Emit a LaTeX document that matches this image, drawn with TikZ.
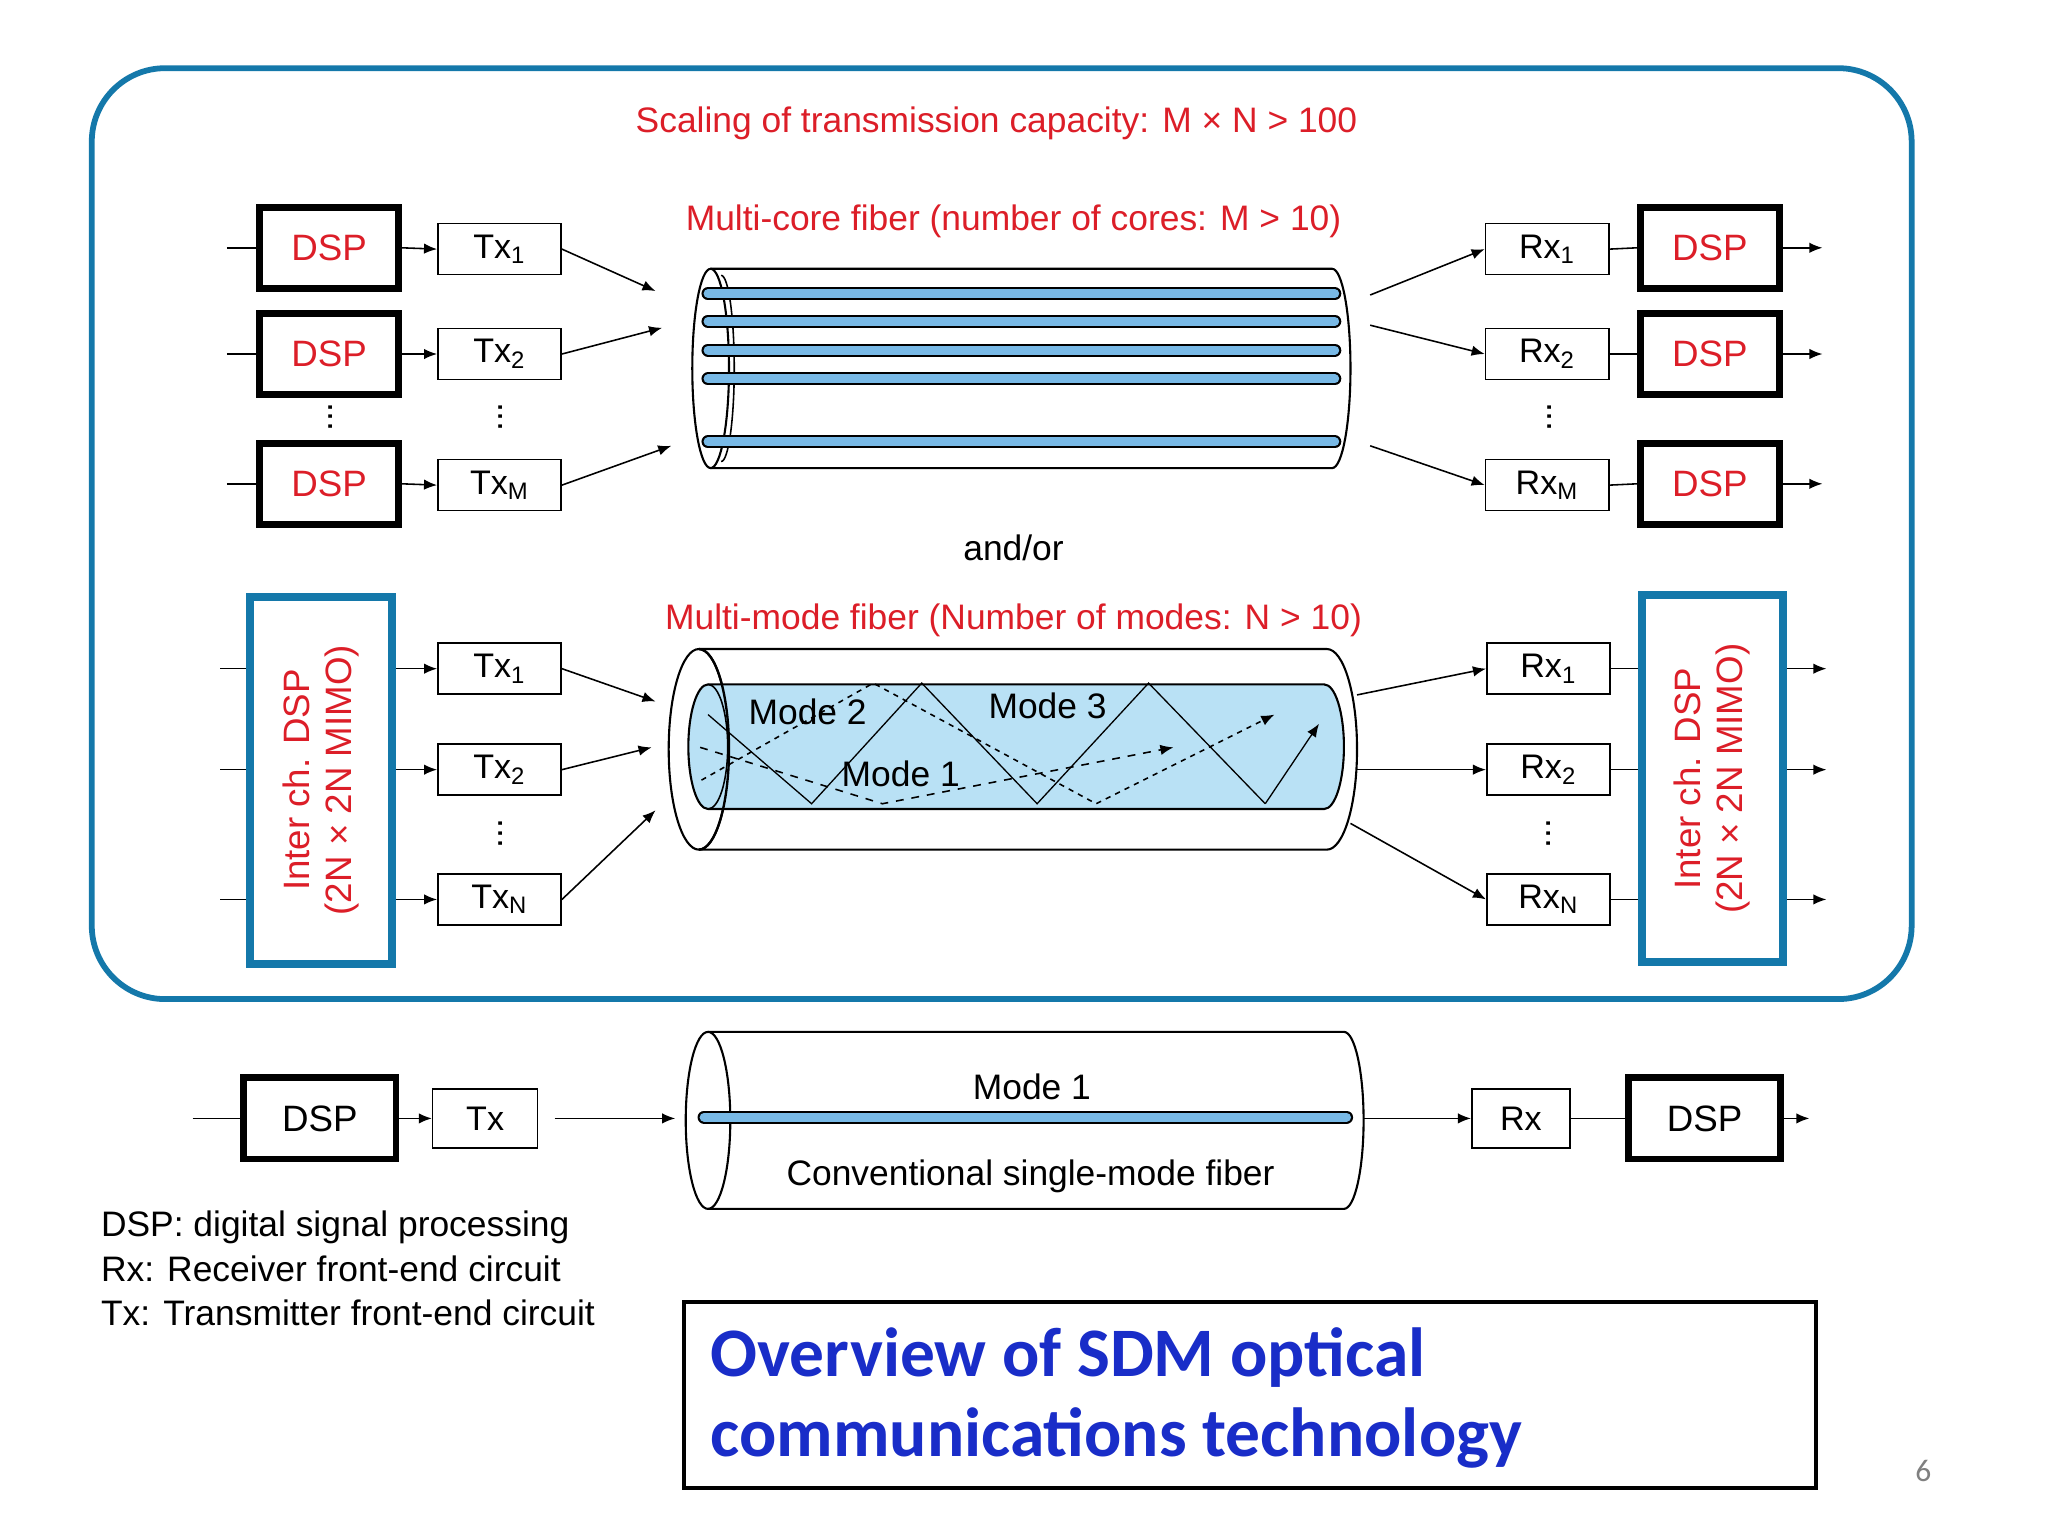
\documentclass[tikz,border=0pt]{standalone}
\usepackage{fontspec}
\setmainfont{Liberation Sans}
\newfontfamily\calib{Carlito}
\usetikzlibrary{arrows.meta}
\definecolor{frameblue}{RGB}{20,120,170}
\definecolor{sred}{RGB}{220,30,40}
\definecolor{coreblue}{RGB}{120,185,230}
\definecolor{lightcore}{RGB}{185,225,245}
\definecolor{titleblue}{RGB}{25,45,200}
\tikzset{
 x=0.5pt,y=-0.5pt,
 dsp/.style={draw,line width=2.6pt,minimum width=53pt,minimum height=31pt,inner sep=0,text=sred,font=\fontsize{14}{16}\selectfont},
 dspk/.style={dsp,text=black},
 txb/.style={draw,line width=0.6pt,minimum width=47pt,minimum height=19.5pt,inner sep=0,font=\fontsize{13}{15}\selectfont},
 mimo/.style={draw=frameblue,line width=3pt,minimum width=54pt,minimum height=140pt,inner sep=0},
 arr/.style={-{Latex[length=5pt,width=4pt]},line width=0.6pt},
 ln/.style={line width=0.6pt},
 lbl/.style={font=\fontsize{13.5}{15}\selectfont},
 core/.style={line width=5pt,line cap=round},
}
\begin{document}
\begin{tikzpicture}
\useasboundingbox (0,0) rectangle (1562,1172);
\fill[white] (0,0) rectangle (1562,1172);
\draw[frameblue,line width=2.2pt,rounded corners=28pt] (70,52) rectangle (1458,762);
\node[lbl,text=sred] (title) at (760,94) {Scaling of transmission capacity: M × N > 100};
% ---------- multi-core ----------
\node[lbl,text=sred] (mcl) at (773,169) {Multi-core fiber (number of cores: M > 10)};
\foreach \n/\y in {1/189,2/270,3/369}{
  \node[dsp] (dl\n) at (251,\y) {DSP};
  \coordinate (il\n) at (173,\y);
  \draw[ln] (il\n) -- (dl\n.west);
  \node[dsp] (dr\n) at (1304,\y) {DSP};
  \coordinate (or\n) at (1390,\y);
  \draw[arr] (dr\n.east) -- (or\n);
}
\node[txb] (t1) at (381,190) {Tx\textsubscript{1}};
\node[txb] (t2) at (381,270) {Tx\textsubscript{2}};
\node[txb] (t3) at (381,370) {Tx\textsubscript{M}};
\node[txb] (r1) at (1180,190) {Rx\textsubscript{1}};
\node[txb] (r2) at (1180,270) {Rx\textsubscript{2}};
\node[txb] (r3) at (1180,370) {Rx\textsubscript{M}};
\foreach \n in {1,2,3}{\draw[arr] (dl\n.east) -- (t\n.west); \draw[ln] (r\n.east) -- (dr\n.west);}
\node[lbl] (dd1) at (252,318) {\rotatebox{90}{...}};
\node[lbl] (dd2) at (382,318) {\rotatebox{90}{...}};
\node[lbl] (dd3) at (1182,318) {\rotatebox{90}{...}};
\node[lbl] (dd4) at (775,312) {\rotatebox{90}{...}};
% fiber
\draw[line width=0.8pt,fill=white] (542,205) -- (1016,205) arc[start angle=-90,end angle=90,x radius=14,y radius=76] -- (542,357);
\draw[line width=0.8pt] (542,281) ellipse[x radius=14,y radius=76];
\draw[line width=0.6pt] (550,210) arc[start angle=-90,end angle=90,x radius=10,y radius=71];
\foreach \y in {224,245,267,289,337}{
  \draw[core,black] (540,\y) -- (1018,\y);
  \draw[line width=3.4pt,line cap=round,coreblue] (540,\y) -- (1018,\y);
}
\coordinate (fa1) at (500,222); \coordinate (fa2) at (505,250); \coordinate (fa3) at (512,340);
\draw[arr] (t1.east) -- (fa1); \draw[arr] (t2.east) -- (fa2); \draw[arr] (t3.east) -- (fa3);
\coordinate (fb1) at (1045,225); \coordinate (fb2) at (1045,248); \coordinate (fb3) at (1045,340);
\draw[arr] (fb1) -- (r1.west); \draw[arr] (fb2) -- (r2.west); \draw[arr] (fb3) -- (r3.west);
\node[lbl] (andor) at (773,418) {and/or};
% ---------- multi-mode ----------
\node[lbl,text=sred] (mml) at (773,473) {Multi-mode fiber (Number of modes: N > 10)};
\node[mimo] (ml) at (245,595) {};
\node[rotate=90,align=center,text=sred,font=\fontsize{14}{16}\selectfont] at (ml.center) {Inter ch. DSP\\(2N × 2N MIMO)};
\node[mimo] (mr) at (1306,594) {};
\node[rotate=90,align=center,text=sred,font=\fontsize{14}{16}\selectfont] at (mr.center) {Inter ch. DSP\\(2N × 2N MIMO)};
\node[txb] (u1) at (381,510) {Tx\textsubscript{1}};
\node[txb] (u2) at (381,587) {Tx\textsubscript{2}};
\node[txb] (u3) at (381,686) {Tx\textsubscript{N}};
\node[txb] (s1) at (1181,510) {Rx\textsubscript{1}};
\node[txb] (s2) at (1181,587) {Rx\textsubscript{2}};
\node[txb] (s3) at (1181,686) {Rx\textsubscript{N}};
\node[lbl] (dd5) at (382,636) {\rotatebox{90}{...}};
\node[lbl] (dd6) at (1181,636) {\rotatebox{90}{...}};
\foreach \n/\y in {1/510,2/587,3/686}{
  \coordinate (mi\n) at (168,\y); \draw[ln] (mi\n) -- (mi\n -| ml.west);
  \draw[arr] (ml.east |- u\n) -- (u\n.west);
  \draw[ln] (s\n.east) -- (s\n.east -| mr.west);
  \coordinate (mo\n) at (1393,\y); \draw[arr] (mr.east |- mo\n) -- (mo\n);
}
% fiber
\draw[line width=0.8pt,fill=white] (533,495) -- (1012,495) arc[start angle=-90,end angle=90,x radius=23,y radius=76.5] -- (533,648);
\draw[line width=0.8pt] (533,571.5) ellipse[x radius=23,y radius=76.5];
\draw[line width=0.8pt,fill=lightcore] (540,522) -- (1010,522) arc[start angle=-90,end angle=90,x radius=15,y radius=47.5] -- (540,617) arc[start angle=90,end angle=270,x radius=15,y radius=47.5] -- cycle;
\draw[line width=0.6pt] (540,522) arc[start angle=-90,end angle=90,x radius=15,y radius=47.5];
\draw[line width=0.9pt] (533,495) arc[start angle=-90,end angle=90,x radius=23,y radius=76.5];
\draw[line width=0.5pt] (540,545) -- (619,613) -- (703,521) -- (791,613) -- (876,521) -- (965,613);
\draw[line width=0.5pt,-{Latex[length=5pt,width=4pt]}] (965,613) -- (1006,552);
\draw[line width=0.6pt,dashed,-{Latex[length=5pt,width=4pt]}] (534,570) -- (673,613) -- (895,570);
\draw[line width=0.6pt,dash pattern=on 2pt off 2pt,-{Latex[length=5pt,width=4pt]}] (535,595) -- (666,521) -- (836,613) -- (972,545);
\node[lbl,inner sep=0.5pt] (m2) at (616,543) {Mode 2};
\node[lbl] (m3) at (799,538) {Mode 3};
\node[lbl,inner sep=0.5pt] (m1) at (687,590) {Mode 1};
\coordinate (ga1) at (500,535); \coordinate (ga2) at (497,570); \coordinate (ga3) at (500,618);
\draw[arr] (u1.east) -- (ga1); \draw[arr] (u2.east) -- (ga2); \draw[arr] (u3.east) -- (ga3);
\coordinate (gb1) at (1035,530); \coordinate (gb2) at (1035,587); \coordinate (gb3) at (1030,628);
\draw[arr] (gb1) -- (s1.west); \draw[arr] (gb2) -- (s2.west); \draw[arr] (gb3) -- (s3.west);
% ---------- single mode ----------
\node[dspk,minimum width=58pt] (bd1) at (244,853) {DSP};
\node[dspk,minimum width=58pt] (bd2) at (1300,853) {DSP};
\node[txb,minimum width=40pt,minimum height=22.5pt] (bt) at (370,853) {Tx};
\node[txb,minimum width=37.5pt,minimum height=22.5pt] (br) at (1160,853) {Rx};
\coordinate (bi) at (147,853); \coordinate (bo) at (1380,853);
\draw[ln] (bi) -- (bd1.west); \draw[arr] (bd1.east) -- (bt.west);
\draw[ln] (br.east) -- (bd2.west); \draw[arr] (bd2.east) -- (bo);
\draw[line width=0.8pt,fill=white] (540,787) -- (1025,787) arc[start angle=-90,end angle=90,x radius=15,y radius=67.5] -- (540,922);
\draw[line width=0.8pt] (540,854.5) ellipse[x radius=17,y radius=67.5];
\draw[core,black] (537,852) -- (1027,852);
\draw[line width=3.4pt,line cap=round,coreblue] (537,852) -- (1027,852);
\coordinate (sa) at (423,853); \coordinate (sb) at (515,853); \coordinate (sc) at (1040,853);
\draw[arr] (sa) -- (sb); \draw[arr] (sc) -- (br.west);
\node[lbl] (sm1) at (787,829) {Mode 1};
\node[lbl] (smf) at (786,897) {Conventional single-mode fiber};
% legend
\node[lbl,anchor=west] (lg1) at (70,936) {DSP: digital signal processing};
\node[lbl,anchor=west] (lg2) at (70,968) {Rx: Receiver front-end circuit};
\node[lbl,anchor=west] (lg3) at (70,1001) {Tx: Transmitter front-end circuit};
% title box
\draw[line width=1.5pt] (522,993) rectangle (1385,1135);
\node[anchor=west,text=titleblue,font=\calib\bfseries\fontsize{26.5}{30}\selectfont] (tt1) at (535,1035) {Overview of SDM optical};
\node[anchor=west,text=titleblue,font=\calib\bfseries\fontsize{26.5}{30}\selectfont] (tt2) at (535,1097) {communications technology};
\node[text=gray,font=\calib\fontsize{12}{14}\selectfont] (pg) at (1467,1122) {6};
\end{tikzpicture}
\end{document}
